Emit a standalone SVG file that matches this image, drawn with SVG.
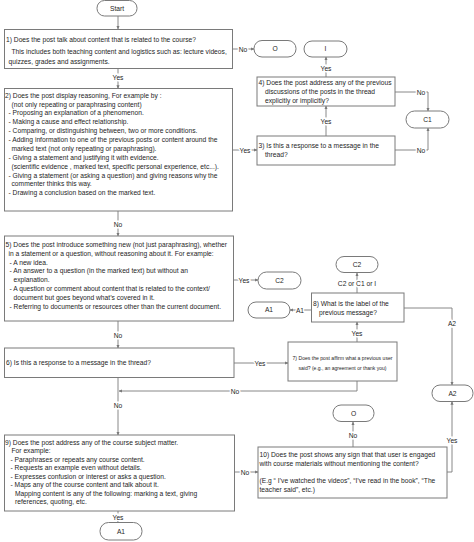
<svg xmlns="http://www.w3.org/2000/svg" width="474" height="542" viewBox="0 0 474 542">
<defs>
<style>
.bx{fill:#fff;stroke:#7a7a7a;stroke-width:1}
.tm{fill:#fff;stroke:#7a7a7a;stroke-width:1}
.t{font-family:"Liberation Sans",Arial,sans-serif;font-size:6.7px;fill:#1e1e1e}
.s{font-size:6.2px}
.c{text-anchor:middle}
.ln{fill:none;stroke:#7a7a7a;stroke-width:0.9;marker-end:url(#ah)}
.lb{font-family:"Liberation Sans",Arial,sans-serif;font-size:6.7px;fill:#1e1e1e;text-anchor:middle;stroke:#fff;stroke-width:3;paint-order:stroke;dominant-baseline:central}
</style>
<marker id="ah" viewBox="0 0 8 8" refX="7" refY="4" markerWidth="3.6" markerHeight="3.6" orient="auto" markerUnits="userSpaceOnUse">
<path d="M0,0.5 L8,4 L0,7.5 Z" fill="#7a7a7a"/>
</marker>
</defs>
<rect width="474" height="542" fill="#fff"/>

<g id="connectors">
<path class="ln" d="M118,16 V29"/>
<path class="ln" d="M232.5,49 H254"/>
<path class="ln" d="M118,68.5 V88.5"/>
<path class="ln" d="M232.5,150 H257"/>
<path class="ln" d="M326,136 V106"/>
<path class="ln" d="M326,77 V57"/>
<path class="ln" d="M395,92 H428 V111"/>
<path class="ln" d="M395,150 H428 V128"/>
<path class="ln" d="M118,211 V236"/>
<path class="ln" d="M233.5,280 H258"/>
<path class="ln" d="M357,293 V273"/>
<path class="ln" d="M311.5,310 H290"/>
<path class="ln" d="M404,308 H452 V385"/>
<path class="ln" d="M118,321 V348"/>
<path class="ln" d="M234,363 H288"/>
<path class="ln" d="M357,342 V322"/>
<path class="ln" d="M357,381 V391 H119"/>
<path class="ln" d="M118,377.5 V435"/>
<path class="ln" d="M118,511 V522.5"/>
<path class="ln" d="M234.5,472 H258"/>
<path class="ln" d="M353,447 V422"/>
<path class="ln" d="M447,472 H452 V401.5"/>
<text class="lb" x="243" y="49">No</text>
<text class="lb" x="118" y="77">Yes</text>
<text class="lb" x="245" y="150">Yes</text>
<text class="lb" x="326" y="121">Yes</text>
<text class="lb" x="326" y="68">Yes</text>
<text class="lb" x="421" y="92">No</text>
<text class="lb" x="421" y="150">No</text>
<text class="lb" x="118" y="224">No</text>
<text class="lb" x="244" y="280">Yes</text>
<text class="lb" x="357" y="283">C2 or C1 or I</text>
<text class="lb" x="300" y="310">A1</text>
<text class="lb" x="452" y="323">A2</text>
<text class="lb" x="118" y="335">No</text>
<text class="lb" x="260" y="363">Yes</text>
<text class="lb" x="357" y="333">Yes</text>
<text class="lb" x="235" y="391">No</text>
<text class="lb" x="118" y="405">No</text>
<text class="lb" x="118" y="517">Yes</text>
<text class="lb" x="245" y="472">No</text>
<text class="lb" x="353" y="435">No</text>
<text class="lb" x="452" y="440">Yes</text>
</g>

<g id="start"><rect class="tm" x="97" y="0.5" width="40" height="15.5" rx="7.5"/><text class="t c" x="117" y="10.6">Start</text></g>

<g id="q1"><rect class="bx" x="4.5" y="29.5" width="228" height="39"/>
<text class="t" x="6" y="42">1) Does the post talk about content that is related to the course?</text>
<text class="t" x="11.5" y="54">This includes both teaching content and logistics such as: lecture videos,</text>
<text class="t" x="8.5" y="64">quizzes, grades and assignments.</text></g>

<g id="o1"><rect class="tm" x="254" y="40.5" width="42" height="16.5" rx="8"/><text class="t c" x="275" y="51.2">O</text></g>
<g id="i1"><rect class="tm" x="304" y="41" width="43" height="16" rx="8"/><text class="t c" x="325.5" y="51.4">I</text></g>

<g id="q2"><rect class="bx" x="4.5" y="88.5" width="228" height="122.5"/>
<text class="t" x="5" y="97.7">2) Does the post display reasoning,  For example by :</text>
<text class="t" x="11.5" y="106.6">(not only repeating or paraphrasing content)</text>
<text class="t" x="8.5" y="115.4">- Proposing an explanation of a phenomenon.</text>
<text class="t" x="8.5" y="124.3">- Making a cause and effect relationship.</text>
<text class="t" x="8.5" y="133.2">- Comparing, or distinguishing between, two or more conditions.</text>
<text class="t" x="8.5" y="142.1">- Adding information to one of the previous posts or content around the</text>
<text class="t" x="11.5" y="150.9">marked text (not only repeating or paraphrasing).</text>
<text class="t" x="8.5" y="159.8">- Giving a statement and justifying it with evidence.</text>
<text class="t" x="11.5" y="168.7">(scientific evidence , marked text, specific personal experience, etc...).</text>
<text class="t" x="8.5" y="177.5">- Giving a statement (or asking a question) and giving reasons why the</text>
<text class="t" x="11.5" y="186.4">commenter thinks this way.</text>
<text class="t" x="8.5" y="195.3">- Drawing a conclusion based on the marked text.</text></g>

<g id="q4"><rect class="bx" x="257" y="77" width="138" height="29"/>
<text class="t" x="258.5" y="84.5">4) Does the post address any of the previous</text>
<text class="t" x="265" y="93.5">discussions of the posts in the thread</text>
<text class="t" x="265" y="102.5">explicitly or implicitly?</text></g>

<g id="q3"><rect class="bx" x="257" y="136" width="138" height="29"/>
<text class="t" x="258.5" y="148">3) Is this a response to a message in the</text>
<text class="t" x="265" y="157">thread?</text></g>

<g id="c1"><rect class="tm" x="406" y="111" width="43" height="17" rx="8.5"/><text class="t c" x="427.5" y="122">C1</text></g>

<g id="q5"><rect class="bx" x="4.5" y="236" width="229" height="85"/>
<text class="t" x="5.5" y="247">5) Does the post introduce something new (not just paraphrasing), whether</text>
<text class="t" x="8.5" y="255.8">in a statement or a question, without reasoning about it. For example:</text>
<text class="t" x="9.5" y="264.6">- A new idea.</text>
<text class="t" x="9.5" y="273.4">- An answer to a question (in the marked text) but without an</text>
<text class="t" x="13.5" y="282.2">explanation.</text>
<text class="t" x="9.5" y="291">- A question or comment about content that is related to the context/</text>
<text class="t" x="13.5" y="299.8">document but goes beyond what’s covered in it.</text>
<text class="t" x="9.5" y="308.6">- Referring to documents or resources other than the current document.</text></g>

<g id="c2a"><rect class="tm" x="258" y="272" width="43" height="17" rx="8.5"/><text class="t c" x="279.5" y="283">C2</text></g>
<g id="c2b"><rect class="tm" x="336" y="256.5" width="42" height="16" rx="8"/><text class="t c" x="357" y="267">C2</text></g>

<g id="q8"><rect class="bx" x="311.5" y="293" width="92.5" height="29"/>
<text class="t" x="313" y="306">8) What is the label of the</text>
<text class="t" x="319" y="315.3">previous message?</text></g>

<g id="a1r"><rect class="tm" x="248" y="302" width="42" height="16" rx="8"/><text class="t c" x="269" y="312.4">A1</text></g>
<g id="a2"><rect class="tm" x="432" y="385" width="41" height="16.5" rx="8"/><text class="t c" x="452.5" y="395.7">A2</text></g>

<g id="q6"><rect class="bx" x="4.5" y="348" width="229.5" height="29.5"/>
<text class="t" x="6" y="365">6) Is this a response to a message in the thread?</text></g>

<g id="q7"><rect class="bx" x="288" y="342" width="109" height="39"/>
<text class="t s c" x="342.5" y="360.3" textLength="100" lengthAdjust="spacingAndGlyphs">7) Does the post affirm what a previous user</text>
<text class="t s c" x="342.5" y="370.3" textLength="88" lengthAdjust="spacingAndGlyphs">said? (e.g., an agreement or thank you)</text></g>

<g id="o2"><rect class="tm" x="333" y="405" width="41" height="16.5" rx="8"/><text class="t c" x="353.5" y="415.7">O</text></g>

<g id="q9"><rect class="bx" x="4.5" y="435" width="230" height="76"/>
<text class="t" x="5" y="444.7">9) Does the post address any of the course subject matter.</text>
<text class="t" x="11.5" y="453.2">For example:</text>
<text class="t" x="10.5" y="461.7">- Paraphrases or repeats any course content.</text>
<text class="t" x="10.5" y="470.2">- Requests an example even without details.</text>
<text class="t" x="10.5" y="478.7">- Expresses confusion or interest or asks a question.</text>
<text class="t" x="10.5" y="487.2">- Maps any of the course content and talk about it.</text>
<text class="t" x="15" y="495.7">Mapping content is any of the following: marking a text, giving</text>
<text class="t" x="15" y="504.2">references, quoting, etc.</text></g>

<g id="q10"><rect class="bx" x="258" y="447" width="189" height="51"/>
<text class="t" x="259.5" y="457">10) Does the post shows any sign that that user is engaged</text>
<text class="t" x="259.5" y="465.5">with course materials without mentioning the content?</text>
<text class="t" x="259.5" y="483">(E.g “ I’ve watched the videos”, “I’ve read in the book”, “The</text>
<text class="t" x="259.5" y="492">teacher said”, etc.)</text></g>

<g id="a1b"><rect class="tm" x="100" y="522.5" width="42" height="17.5" rx="8.5"/><text class="t c" x="121" y="533.7">A1</text></g>
</svg>
